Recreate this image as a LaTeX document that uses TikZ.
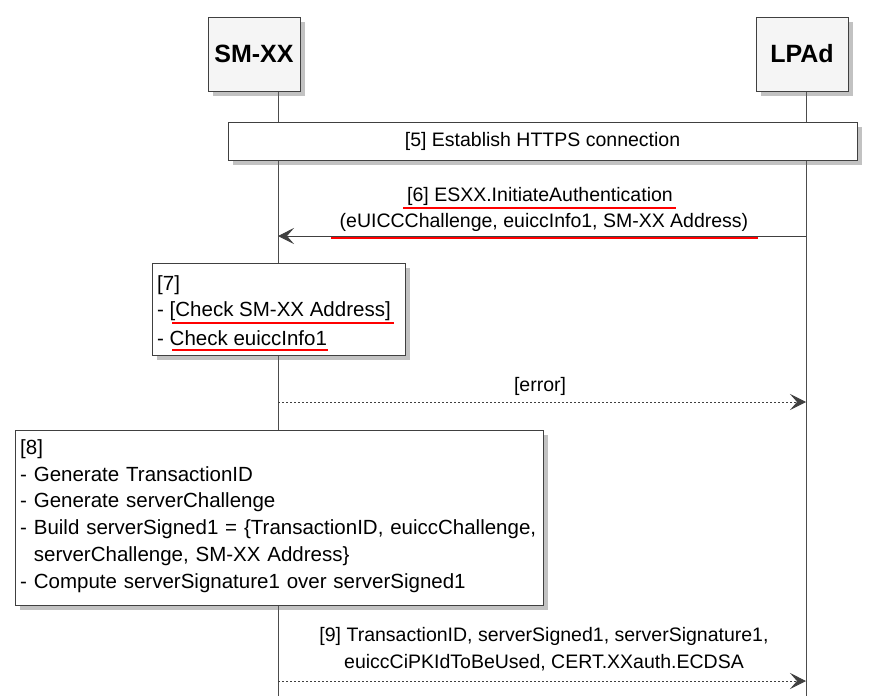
\documentclass[tikz,border=0pt]{standalone}
\usepackage{fontspec}
\setmainfont{Liberation Sans}
\usetikzlibrary{arrows.meta,shadows}
\begin{document}
\begin{tikzpicture}[x=1pt,y=-1pt,
 box/.style={draw=black!75,line width=0.8pt,fill=white,drop shadow={shadow xshift=5pt,shadow yshift=-5pt,opacity=0.4,fill=black!60}},
 part/.style={box,fill=black!4,font=\fontsize{25}{28}\selectfont\bfseries},
 life/.style={draw=black!70,line width=0.7pt},
 txt/.style={font=\fontsize{19.5}{22}\selectfont,inner sep=0pt},
 btxt/.style={font=\fontsize{20.5}{22}\selectfont,inner sep=0pt},
 msg/.style={draw=black!75,line width=0.8pt,-{Stealth[length=16pt,width=16pt,inset=7pt]}},
 dmsg/.style={msg,dash pattern=on 2pt off 2pt},
 red/.style={draw=red,line width=2.2pt}]
\useasboundingbox (0,0) rectangle (880,696);
\coordinate (a0) at (278,92); \coordinate (a1) at (278,696);
\coordinate (b0) at (806,92); \coordinate (b1) at (806,696);
\draw[life] (a0) -- (a1);
\draw[life] (b0) -- (b1);
\node[part,minimum width=92pt,minimum height=74pt] (sm) at (254,54) {SM-XX};
\node[part,minimum width=92pt,minimum height=74pt] (lp) at (802,54) {LPAd};
\node[box,minimum width=629pt,minimum height=38pt,txt] (s5) at (542.5,141) {[5] Establish HTTPS connection};
\node[txt] (t6a) at (540,196) {[6] ESXX.InitiateAuthentication};
\node[txt] (t6b) at (544,222) {(eUICCChallenge, euiccInfo1, SM-XX Address)};
\coordinate (m6s) at (806,236); \coordinate (m6e) at (278,236);
\draw[msg] (m6s) -- (m6e);
\draw[red] (403,208) -- (676,208);
\draw[red] (331,238) -- (758,238);
\node[box,minimum width=253pt,minimum height=92pt] (s7) at (278.5,309) {};
\node[btxt,anchor=west] (t7a) at (157,285) {[7]};
\node[btxt,anchor=west] (t7b) at (157,311) {- [Check SM-XX Address]};
\node[btxt,anchor=west] (t7c) at (157,338) {- Check euiccInfo1};
\draw[red] (172,323) -- (394,323);
\draw[red] (172,350) -- (328,350);
\coordinate (m7s) at (278,402); \coordinate (m7e) at (806,402);
\draw[dmsg] (m7s) -- (m7e);
\node[txt] (t7e) at (540,386) {[error]};
\node[box,minimum width=528pt,minimum height=175pt] (s8) at (279,517.5) {};
\node[btxt,anchor=west,align=left,text width=520pt,font=\fontsize{20.5}{26.8}\selectfont] (t8) at (20,516) {[8]\\- Generate TransactionID\\- Generate serverChallenge\\- Build serverSigned1 = \{TransactionID, euiccChallenge,\\\hphantom{- }serverChallenge, SM-XX Address\}\\- Compute serverSignature1 over serverSigned1};
\node[txt] (t9a) at (544,636) {[9] TransactionID, serverSigned1, serverSignature1,};
\node[txt] (t9b) at (544,663) {euiccCiPKIdToBeUsed, CERT.XXauth.ECDSA};
\coordinate (m9s) at (278,681); \coordinate (m9e) at (806,681);
\draw[dmsg] (m9s) -- (m9e);
\end{tikzpicture}
\end{document}
